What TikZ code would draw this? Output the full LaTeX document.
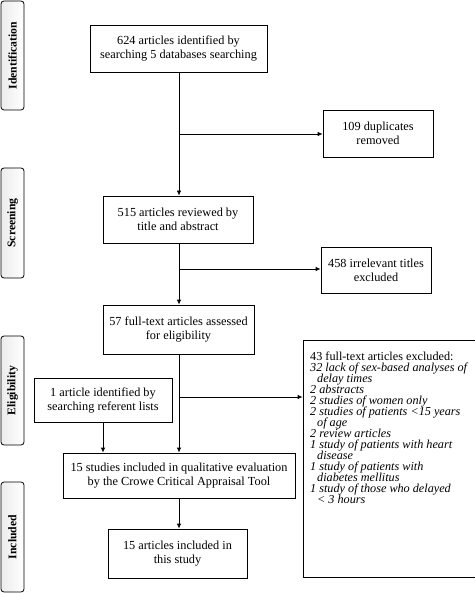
\documentclass[tikz,border=0pt]{standalone}
\usepackage{fontspec}
\setmainfont{Liberation Serif}
\usetikzlibrary{arrows.meta,calc}
\lineskiplimit=-20pt
\begin{document}
\begin{tikzpicture}[x=1pt,y=-1pt,
  box/.style={draw,line width=0.8pt,inner sep=0pt,font=\fontsize{12.3}{14}\selectfont,align=center},
  side/.style={draw,line width=0.8pt,rounded corners=3pt,left color=gray!15,right color=white,inner sep=0pt},
  sidetext/.style={rotate=90,font=\fontsize{11.7}{13}\selectfont\bfseries},
  listtext/.style={anchor=north west,inner sep=0pt,align=left,font=\fontsize{12.2}{11}\selectfont},
  arr/.style={line width=0.8pt,-{Latex[length=5pt,width=4.5pt]}}]
\useasboundingbox (0,0) rectangle (474,593);
% side labels
\node[side,minimum width=23pt,minimum height=109pt] (sid) at (12.5,55.5) {};
\node[sidetext] (tid) at (sid.center) {Identification};
\node[side,minimum width=23pt,minimum height=110pt] (ssc) at (12.5,223) {};
\node[sidetext] (tsc) at (ssc.center) {Screening};
\node[side,minimum width=23pt,minimum height=109pt] (sel) at (12.5,390.5) {};
\node[sidetext] (tel) at (sel.center) {Eligibility};
\node[side,minimum width=23pt,minimum height=110pt] (sin) at (12.5,537) {};
\node[sidetext] (tin) at (sin.center) {Included};
% boxes
\node[box,minimum width=177pt,minimum height=47pt] (b1) at (178.5,48.5) {624 articles identified by\\searching 5 databases searching};
\node[box,minimum width=110pt,minimum height=47pt] (b2) at (378,133.5) {109 duplicates\\removed};
\node[box,minimum width=150pt,minimum height=47pt] (b3) at (178,219.5) {515 articles reviewed by\\title and abstract};
\node[box,minimum width=110pt,minimum height=46pt] (b4) at (376,270) {458 irrelevant titles\\excluded};
\node[box,minimum width=151pt,minimum height=49pt] (b5) at (178.5,329.5) {57 full-text articles assessed\\for eligibility};
\node[box,minimum width=180pt,minimum height=237pt] (b6) at (393,458.5) {};
\node[listtext] (t6) at (310,352) {43 full-text articles excluded:\\
\itshape 32 lack of sex-based analyses of\\
\itshape\hspace*{7pt}delay times\\
\itshape 2 abstracts\\
\itshape 2 studies of women only\\
\itshape 2 studies of patients <15 years\\
\itshape\hspace*{7pt}of age\\
\itshape 2 review articles\\
\itshape 1 study of patients with heart\\
\itshape\hspace*{7pt}disease\\
\itshape 1 study of patients with\\
\itshape\hspace*{7pt}diabetes mellitus\\
\itshape 1 study of those who delayed\\
\itshape\hspace*{7pt}< 3 hours};
\node[box,minimum width=138pt,minimum height=44pt] (b7) at (103,400) {1 article identified by\\searching referent lists};
\node[box,minimum width=232pt,minimum height=45pt] (b8) at (179,475.5) {15 studies included in qualitative evaluation\\by the Crowe Critical Appraisal Tool};
\node[box,minimum width=139pt,minimum height=49pt] (b9) at (177.5,553.5) {15 articles included in\\this study};
% connectors
\coordinate (c1) at (179,134);
\coordinate (c2) at (179,269);
\coordinate (c3) at (179,397);
\draw[arr] (b1.south -| c1) -- (b3.north -| c1);
\draw[arr] (c1) -- (c1 -| b2.west);
\draw[arr] (b3.south -| c2) -- (b5.north -| c2);
\draw[arr] (c2) -- (c2 -| b4.west);
\draw[arr] (b5.south -| c3) -- (b8.north -| c3);
\draw[arr] (c3) -- (c3 -| b6.west);
\draw[arr] (b7.south) -- (b7.south |- b8.north);
\draw[arr] (b8.south -| c3) -- (b9.north -| c3);
\end{tikzpicture}
\end{document}
